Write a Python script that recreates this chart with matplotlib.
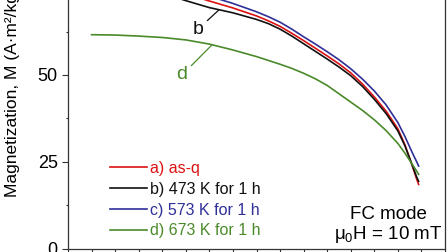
import matplotlib
matplotlib.use("Agg")
import matplotlib.pyplot as plt
from matplotlib.ticker import FixedLocator, MultipleLocator

plt.rcParams['font.family'] = ['Liberation Sans', 'DejaVu Sans']
plt.rcParams['mathtext.fontset'] = 'custom'
plt.rcParams['mathtext.rm'] = 'Liberation Sans'
plt.rcParams['mathtext.it'] = 'Liberation Sans:italic'

# temperature (K) and magnetization (A m^2/kg)
temp = [50, 100, 150, 200, 250, 300, 350, 400, 425, 450, 475, 500, 525, 550, 575,
        600, 625, 650, 675, 700, 715, 730, 740, 744]
m_asq = [77.5, 77.2, 76.6, 75.4, 73.4, 71.3, 69.3, 67.0, 65.6, 64.0, 62.0, 59.9, 57.7, 55.5, 53.2,
         50.6, 47.4, 43.7, 39.6, 34.5, 29.9, 24.1, 20.0, 18.5]
m_473 = [77.0, 76.6, 75.6, 73.6, 71.4, 69.4, 67.9, 66.0, 64.8, 63.2, 61.2, 59.0, 56.8, 54.6, 52.3,
         49.8, 46.7, 43.0, 38.9, 33.9, 29.6, 24.2, 20.6, 19.4]
m_573 = [78.5, 78.2, 77.6, 76.4, 74.6, 72.7, 70.6, 68.2, 66.8, 65.2, 63.2, 61.0, 58.9, 56.7, 54.4,
         51.8, 48.8, 45.4, 41.4, 36.3, 32.3, 27.8, 25.0, 23.8]
m_673 = [61.6, 61.5, 61.2, 60.8, 60.1, 58.9, 57.2, 55.3, 54.2, 53.1, 51.9, 50.5, 48.9, 47.0, 44.6,
         42.2, 39.8, 37.1, 34.0, 30.3, 27.5, 24.4, 22.3, 21.4]

labels = ["a) as-q", "b) 473 K for 1 h", "c) 573 K for 1 h", "d) 673 K for 1 h"]
colors = ["#dd1111", "#111111", "#2f2f98", "#4a8a2a"]
series = [m_asq, m_473, m_573, m_673]

fig = plt.figure(figsize=(4.48, 2.52), dpi=100)
ax = fig.add_axes([68 / 448, 3.3 / 252, 377 / 448, 80 * 3.474 / 252])

for m, lab, c in zip(series, labels, colors):
    ax.plot(temp, m, color=c, lw=1.2, label=lab)

ax.set_xlim(0, 800)
ax.set_ylim(0, 80)
ax.yaxis.set_major_locator(FixedLocator([0, 25, 50]))
ax.yaxis.set_minor_locator(FixedLocator([12.5, 37.5, 62.5]))
ax.xaxis.set_major_locator(MultipleLocator(100))
ax.xaxis.set_minor_locator(MultipleLocator(50))
ax.tick_params(axis='y', which='major', direction='out', length=4.2, width=0.8,
               pad=3.2, labelsize=13, color='#333333')
ax.tick_params(axis='y', which='minor', direction='out', length=1.8, width=0.8, color='#333333')
ax.tick_params(axis='x', which='both', direction='out', length=3.5, width=0.8,
               labelbottom=False, color='#333333')
for s in ax.spines.values():
    s.set_linewidth(0.9)
    s.set_color('#333333')

ax.set_ylabel("Magnetization, M (A·m²/kg)", fontsize=12.5)
ax.yaxis.set_label_coords((20 - 68) / 377, (248.7 - 92) / (80 * 3.474))

leg = ax.legend(loc='upper left', bbox_to_anchor=((110 - 68) / 377, (248.7 - 161) / (80 * 3.474)),
                frameon=False, fontsize=11.5, handlelength=2.3, handletextpad=0.2,
                labelspacing=0.36, borderpad=0, borderaxespad=0, labelcolor='linecolor')

ax.annotate("b", xy=(320, 68.7), xytext=(276, 63.2), fontsize=14, ha='center', va='center',
            color=colors[1], arrowprops=dict(arrowstyle='-', color=colors[1], lw=0.9,
                                             shrinkA=1, shrinkB=0))
ax.annotate("d", xy=(305, 58.6), xytext=(242, 50.0), fontsize=14, ha='center', va='center',
            color=colors[3], arrowprops=dict(arrowstyle='-', color=colors[3], lw=0.9,
                                             shrinkA=1, shrinkB=0))

tx = (388 - 68) / 377
ax.text(tx, (248.7 - 219) / (80 * 3.474), "FC mode", transform=ax.transAxes,
        ha='center', va='baseline', fontsize=13.5)
ax.text(tx, (248.7 - 239) / (80 * 3.474), "μ$_0$H = 10 mT", transform=ax.transAxes,
        ha='center', va='baseline', fontsize=13.5)

fig.savefig("out.png", dpi=100)
